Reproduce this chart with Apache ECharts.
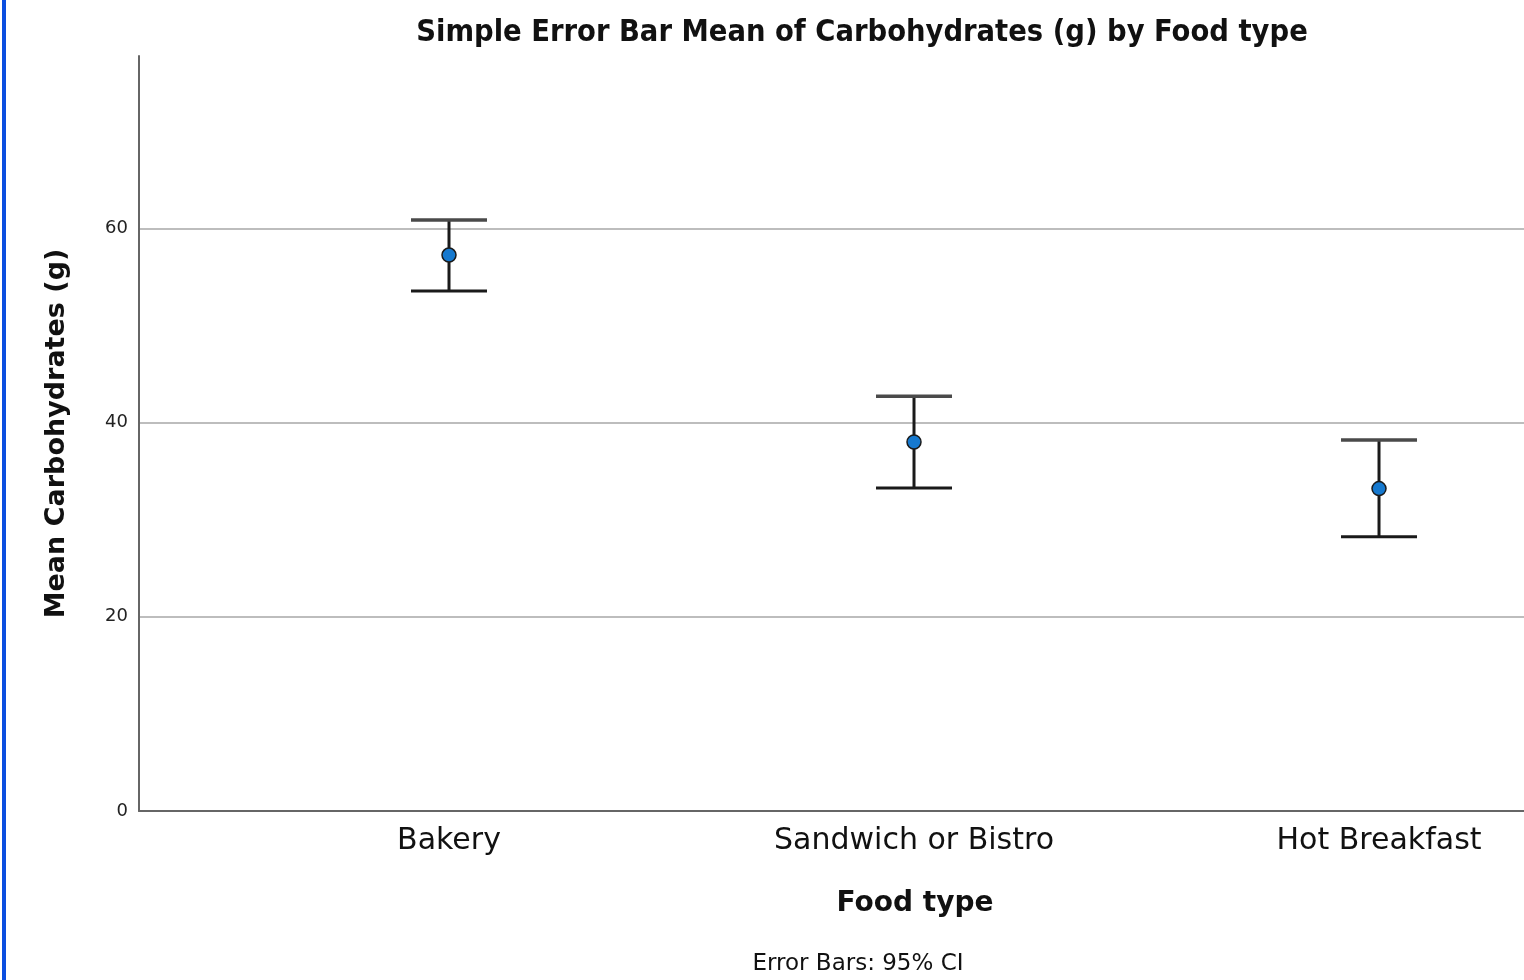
<!DOCTYPE html>
<html>
<head>
<meta charset="utf-8">
<script src="https://cdn.jsdelivr.net/npm/echarts@6/dist/echarts.min.js"></script>
<style>
html,body{margin:0;padding:0;background:#fff;}
#chart{width:1524px;height:980px;}
</style>
</head>
<body>
<div id="chart"></div>
<script>
const categories = ['Bakery', 'Sandwich or Bistro', 'Hot Breakfast'];
const means = [57.25, 38.0, 33.2];
const upperCI = [60.85, 42.7, 38.2];
const lowerCI = [53.55, 33.27, 28.23];
const yTicks = [0, 20, 40, 60];

const chart = echarts.init(document.getElementById('chart'));
const positions = categories.map((c, i) => i + 1);

const errorData = positions.map((p, i) => [p, lowerCI[i], upperCI[i]]);
const meanData = positions.map((p, i) => [p, means[i]]);

const option = {
  backgroundColor: '#fff',
  animation: false,
  title: {
    text: 'Simple Error Bar Mean of Carbohydrates (g) by Food type',
    left: 857, top: 13, textAlign: 'center',
    textStyle: { fontFamily: 'DejaVu Sans Condensed', fontWeight: 'bold', fontSize: 30.5, color: '#111' }
  },
  grid: { left: 139, right: 0, top: 56, bottom: 169, containLabel: false },
  xAxis: {
    type: 'value', min: 1/3, max: 3.3118,
    axisLine: { show: true, lineStyle: { color: '#666', width: 2 } },
    axisTick: { show: false },
    splitLine: { show: false },
    axisLabel: {
      customValues: positions,
      formatter: v => categories[Math.round(v) - 1] || '',
      fontFamily: 'DejaVu Sans', fontSize: 30, color: '#111', margin: 15
    }
  },
  yAxis: {
    type: 'value', min: 0, max: 77.75, interval: 20,
    name: 'Mean Carbohydrates (g)', nameLocation: 'middle', nameGap: 69, nameRotate: 90,
    nameTextStyle: { fontFamily: 'DejaVu Sans', fontWeight: 'bold', fontSize: 27, color: '#111' },
    axisLine: { show: true, lineStyle: { color: '#666', width: 2 } },
    axisTick: { show: false },
    splitLine: { show: true, showMinLine: false, showMaxLine: false, lineStyle: { color: '#bdbdbd', width: 2 } },
    axisLabel: {
      customValues: yTicks,
      fontFamily: 'DejaVu Sans', fontSize: 18, color: '#222', margin: 11
    }
  },
  graphic: [
    { type: 'rect', left: 2, top: 0, shape: { width: 4, height: 980 }, style: { fill: '#0b4ee0' } },
    { type: 'text', x: 915, y: 904, style: { text: 'Food type', fontFamily: 'DejaVu Sans', fontWeight: 'bold', fontSize: 28, fill: '#111', align: 'center', verticalAlign: 'middle' } },
    { type: 'text', x: 858, y: 964, style: { text: 'Error Bars: 95% CI', fontFamily: 'DejaVu Sans', fontSize: 23, fill: '#111', align: 'center', verticalAlign: 'middle' } }
  ],
  series: [
    {
      type: 'custom',
      data: errorData,
      renderItem: function (params, api) {
        const x = api.value(0);
        const lo = api.coord([x, api.value(1)]);
        const hi = api.coord([x, api.value(2)]);
        const hw = 38;
        const style = { stroke: '#1a1a1a', lineWidth: 3 };
        return {
          type: 'group',
          children: [
            { type: 'line', shape: { x1: lo[0], y1: lo[1], x2: hi[0], y2: hi[1] }, style: style },
            { type: 'line', shape: { x1: hi[0] - hw, y1: hi[1], x2: hi[0] + hw, y2: hi[1] }, style: { stroke: '#4a4a4a', lineWidth: 3.5 } },
            { type: 'line', shape: { x1: lo[0] - hw, y1: lo[1], x2: lo[0] + hw, y2: lo[1] }, style: style }
          ]
        };
      },
      z: 2
    },
    {
      type: 'scatter',
      data: meanData,
      symbol: 'circle',
      symbolSize: 14,
      itemStyle: { color: '#1679cf', borderColor: '#1a1a1a', borderWidth: 1.5, opacity: 1 },
      z: 3
    }
  ]
};
chart.setOption(option);
</script>
</body>
</html>
